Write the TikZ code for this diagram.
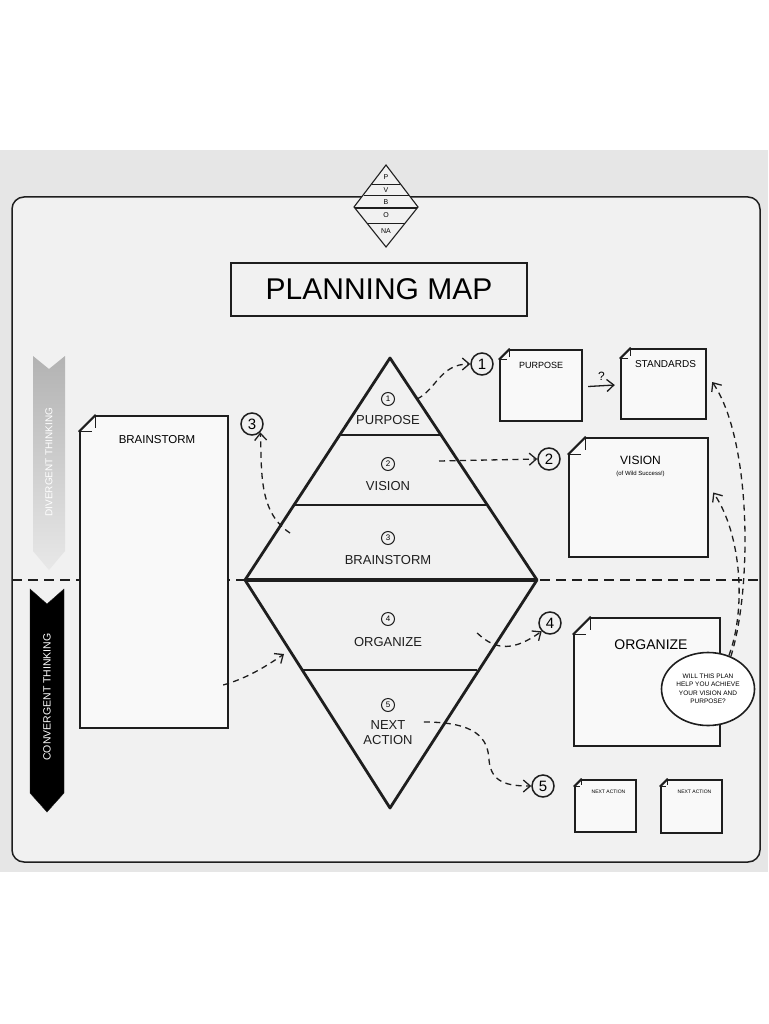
\documentclass[tikz,border=0pt]{standalone}
\usepackage{fontspec}
\setmainfont{Liberation Sans}
\usetikzlibrary{arrows.meta,shapes.geometric,calc}
\definecolor{paper}{HTML}{E6E6E6}
\definecolor{inner}{HTML}{F1F1F1}
\definecolor{ink}{HTML}{1E1E1E}
\tikzset{
  ink/.style={draw=ink},
  note/.style={draw=ink, line width=2.4pt, fill=white!60!inner, rectangle, inner sep=0pt},
  numc/.style={circle, draw=ink, line width=1.5pt, minimum size=22pt, inner sep=0pt, font=\fontsize{15}{15}\selectfont},
  smallc/.style={circle, draw=ink, line width=1pt, minimum size=13pt, inner sep=0pt, font=\fontsize{8}{8}\selectfont},
  dlab/.style={font=\fontsize{13}{13}\selectfont, text=ink, inner sep=1pt},
  dasharrow/.style={draw=ink, line width=1.3pt, dash pattern=on 6pt off 4.5pt, -{Straight Barb[length=7pt,width=12pt,line width=1.3pt]}},
}
% dog-ear corner for a note node
\newcommand{\dogear}[2]{%
  \fill[inner] (#1.north west) -- ++(#2,0) -- ++(-#2,#2) -- cycle;
  \draw[ink, line width=2pt, line join=round] ($(#1.north west)+(0,#2)$) -- ++(#2,-#2);
  \draw[ink, line width=0.7pt] ($(#1.north west)+(#2,0)$) -- ++(0,0.75*#2);
  \draw[ink, line width=0.7pt] ($(#1.north west)+(0,#2)$) -- ++(0.75*#2,0);
}
\begin{document}
\begin{tikzpicture}[x={(1pt,0)}, y={(0,-1pt)}]
\useasboundingbox (0,0) rectangle (768,1024);
\fill[white] (0,0) rectangle (768,1024);
% paper and frame
\fill[paper] (0,150) rectangle (768,872);
\draw[ink, line width=1.5pt, rounded corners=12pt, fill=inner] (12,197) rectangle (760,862);

% small top diamond
\draw[ink, line width=1.1pt, fill=inner] (386,165) -- (418,207) -- (386,247) -- (354,207) -- cycle;
\draw[ink, line width=0.8pt] (372,184) -- (400,184);
\draw[ink, line width=0.8pt] (364,195) -- (409,195);
\draw[ink, line width=1.1pt] (355,208) -- (417,208);
\draw[ink, line width=0.8pt] (367,223) -- (405,223);
\node[font=\fontsize{7}{7}\selectfont] (tp) at (386,177) {P};
\node[font=\fontsize{7}{7}\selectfont] (tv) at (386,190) {V};
\node[font=\fontsize{7}{7}\selectfont] (tb) at (386,202) {B};
\node[font=\fontsize{7}{7}\selectfont] (to) at (386,215.5) {O};
\node[font=\fontsize{7}{7}\selectfont] (tna) at (386,231) {NA};

% title
\node[draw=ink, line width=1.5pt, fill=inner, minimum width=296pt, minimum height=53pt, font=\fontsize{30}{30}\selectfont] (title) at (379,289.5) {PLANNING MAP};

% horizontal dashed divider
\draw[ink, line width=1.3pt, dash pattern=on 10pt off 6pt] (12,580) -- (760,580);

% side arrows
\shade[top color=gray!60, bottom color=gray!18] (33,356) -- (49,369) -- (65,356) -- (65,551) -- (49,570) -- (33,551) -- cycle;
\node[rotate=90, text=white, font=\fontsize{10}{10}\selectfont] (div) at (49,462) {DIVERGENT THINKING};
\fill[ink] (30,589) -- (47,604) -- (64,589) -- (64,793) -- (47,812) -- (30,793) -- cycle;
\node[rotate=90, text=white, font=\fontsize{10.5}{10.5}\selectfont] (conv) at (47,697) {CONVERGENT THINKING};

% brainstorm note
\node[note, minimum width=148pt, minimum height=312pt] (nbrain) at (154,572) {};
\dogear{nbrain}{17}
\node[font=\fontsize{11.5}{11.5}\selectfont] (tbrain) at ($(nbrain.north)+(3,25)$) {BRAINSTORM};

% big diamond
\fill[inner] (390,358) -- (537,580) -- (390,808) -- (245,580) -- cycle;
\draw[ink, line width=1.3pt] (339,435) -- (441,435);
\draw[ink, line width=1.3pt] (294,505) -- (486,505);
\draw[ink, line width=1.3pt] (303,670) -- (477,670);
\draw[ink, line width=3.4pt] (246,580) -- (536,580);
\draw[ink, line width=2.8pt, line join=round] (390,358) -- (537,580) -- (390,808) -- (245,580) -- cycle;

\node[smallc] (d1) at (388,399) {1};
\node[dlab] (dpurpose) at (388,420) {PURPOSE};
\node[smallc] (d2) at (388,464) {2};
\node[dlab] (dvision) at (388,486) {VISION};
\node[smallc] (d3) at (388,538) {3};
\node[dlab] (dbrain) at (388,560) {BRAINSTORM};
\node[smallc] (d4) at (388,619) {4};
\node[dlab] (dorg) at (388,642) {ORGANIZE};
\node[smallc] (d5) at (388,705) {5};
\node[dlab, align=center, font=\fontsize{13}{15}\selectfont] (dnext) at (388,733) {NEXT\\ACTION};
\coordinate (dleft) at (284,654);

% external numbered circles
\node[numc] (c1) at (482,364) {1};
\node[numc] (c2) at (549,459) {2};
\node[numc] (c3) at (252,424) {3};
\node[numc] (c4) at (550,623) {4};
\node[numc] (c5) at (543,786) {5};

% right-side notes
\node[note, minimum width=82pt, minimum height=71pt] (npurpose) at (541,385.5) {};
\dogear{npurpose}{11}
\node[font=\fontsize{9}{9}\selectfont] (tpurpose) at ($(npurpose.north)+(0,17)$) {PURPOSE};

\node[note, minimum width=85pt, minimum height=70pt] (nstandards) at (663.5,384) {};
\dogear{nstandards}{11}
\node[font=\fontsize{10}{10}\selectfont] (tstandards) at ($(nstandards.north)+(2,16)$) {STANDARDS};

\node[note, minimum width=139pt, minimum height=119pt] (nvision) at (638.5,497.5) {};
\dogear{nvision}{18}
\node[font=\fontsize{12}{12}\selectfont] (tvision) at ($(nvision.north)+(2,24)$) {VISION};
\node[font=\fontsize{6}{6}\selectfont] (tvision2) at ($(nvision.north)+(2,37)$) {(of Wild Success!)};

\node[note, minimum width=146pt, minimum height=128pt] (norg) at (647,682) {};
\dogear{norg}{18}
\node[font=\fontsize{14}{14}\selectfont] (torg) at ($(norg.north)+(4,28)$) {ORGANIZE};

\node[note, minimum width=61pt, minimum height=52pt] (nna1) at (605.5,806) {};
\dogear{nna1}{8}
\node[font=\fontsize{5}{5}\selectfont] (tna1) at ($(nna1.north)+(3,13)$) {NEXT ACTION};
\node[note, minimum width=61pt, minimum height=53pt] (nna2) at (691.5,806.5) {};
\dogear{nna2}{8}
\node[font=\fontsize{5}{5}\selectfont] (tna2) at ($(nna2.north)+(3,13)$) {NEXT ACTION};

% bubble
\node[ellipse, draw=ink, line width=1.6pt, fill=white, minimum width=93pt, minimum height=73pt, inner sep=0pt, align=center, font=\fontsize{6.5}{8.5}\selectfont] (bubble) at (708,689) {WILL THIS PLAN\\HELP YOU ACHIEVE\\YOUR VISION AND\\PURPOSE?};

% connectors
\draw[dasharrow] ($(d1.east)+(22,0)$) .. controls (436,390) and (440,364) .. (c1.west);
\draw[dasharrow] ($(d2.east)+(44,-3)$) -- (c2.west);
\draw[dasharrow] ($(d3.west)+(-91,-5)$) .. controls (258,512) and (262,470) .. (c3.south east);
\draw[dasharrow] ($(nbrain.east)+(-6,113)$) .. controls (248,678) and (268,665) .. (dleft);
\draw[dasharrow] ($(dorg.east)+(54,-9)$) .. controls (497,652) and (515,650) .. (c4.south west);
\draw[dasharrow] ($(dnext.east)+(10,-11)$) .. controls (476,722) and (488,738) .. (489,760) .. controls (491,783) and (508,786) .. (c5.west);
\draw[dasharrow] (bubble.55) .. controls (752,590) and (752,440) .. ($(nstandards.east)+(5,-2)$);
\draw[dasharrow] (bubble.58) .. controls (746,610) and (742,535) .. ($(nvision.east)+(4,-5)$);
\draw[ink, line width=1.3pt, -{Straight Barb[length=7pt,width=12pt,line width=1.3pt]}] ($(npurpose.east)+(5,1)$) -- node[above=1pt, font=\fontsize{12}{12}\selectfont] (qm) {?} ($(nstandards.west)+(-5,1)$);
\end{tikzpicture}
\end{document}
